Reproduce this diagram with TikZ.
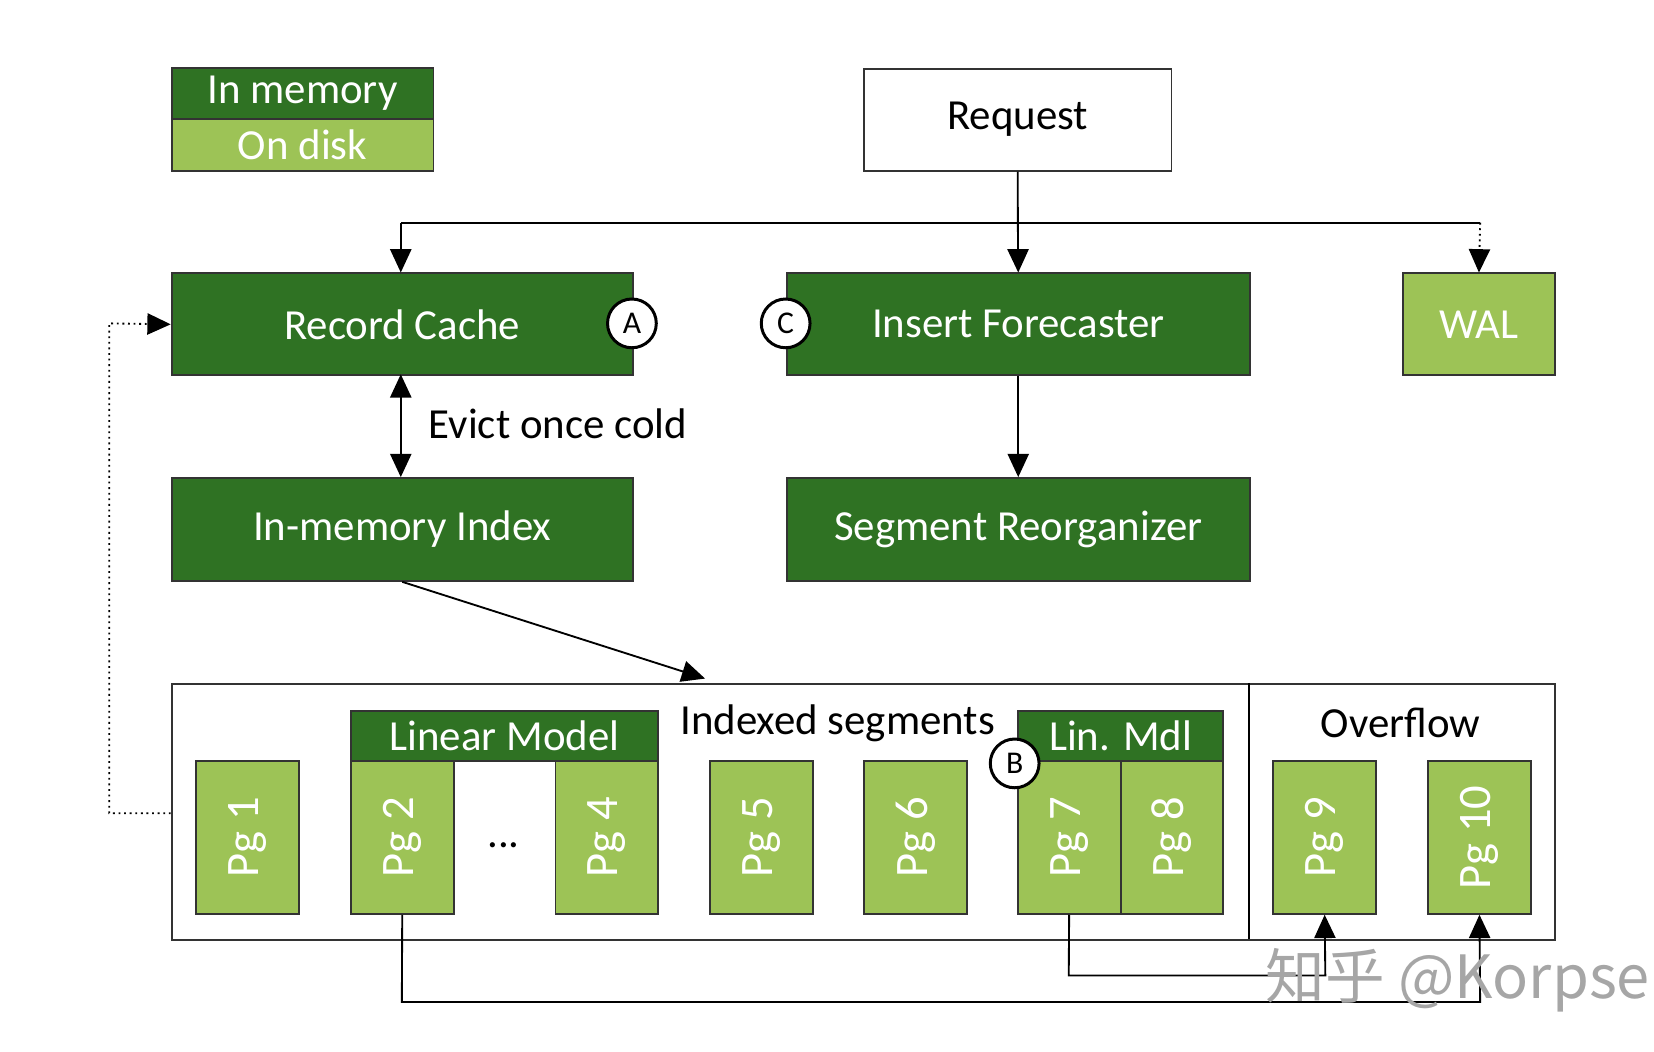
\documentclass[tikz,border=0pt]{standalone}
\usepackage{fontspec}
\setmainfont{Carlito}
\newfontfamily\cjk{Noto Sans CJK SC}
\usetikzlibrary{arrows.meta}
\definecolor{dg}{HTML}{2F7223}
\definecolor{lg}{HTML}{9DC356}
\begin{document}
\begin{tikzpicture}[x=0.1mm,y=-0.1mm,
 box/.style={draw=black!80,line width=0.5pt,anchor=north west,inner sep=0,text=white,font=\fontsize{11.5}{13}\selectfont},
 dark/.style={box,fill=dg},
 light/.style={box,fill=lg},
 pg/.style={light,minimum width=9.7mm,minimum height=14.4mm},
 circ/.style={circle,draw,thick,fill=white,minimum size=4.6mm,inner sep=0,font=\fontsize{8.5}{9}\selectfont},
 arr/.style={-{Triangle[length=2.2mm,width=2mm]},line width=0.5pt},
 lbl/.style={font=\fontsize{11.5}{13}\selectfont}]
\useasboundingbox (0,0) rectangle (1560,992);
% legend
\node[dark,minimum width=24.7mm,minimum height=4.8mm] (mem) at (161,63) {In memory};
\node[light,minimum width=24.7mm,minimum height=4.9mm] (disk) at (161,111) {On disk};
% top row
\node[box,fill=white,text=black,minimum width=29mm,minimum height=9.6mm] (req) at (814,64) {Request};
\node[dark,minimum width=43.5mm,minimum height=9.6mm] (rc) at (161,257) {Record Cache};
\node[dark,minimum width=43.7mm,minimum height=9.6mm] (if) at (741,257) {Insert Forecaster};
\node[light,minimum width=14.4mm,minimum height=9.6mm] (wal) at (1322,257) {WAL};
\node[dark,minimum width=43.5mm,minimum height=9.7mm] (imi) at (161,450) {In-memory Index};
\node[dark,minimum width=43.7mm,minimum height=9.7mm] (sr) at (741,450) {Segment Reorganizer};
\node[circ] (A) at (596,305) {A};
\node[circ] (C) at (741,305) {C};
% request branches
\coordinate (j) at (960,210);
\coordinate (jl) at (378,210);
\coordinate (jr) at (1396,210);
\draw[line width=0.5pt] (req.south) -- (j);
\draw[line width=0.5pt] (jl) -- (jr);
\draw[arr] (jl) -- (378,257);
\draw[arr] (j) -- (if.north);
\draw[arr,densely dotted] (jr) -- (wal.north);
\draw[arr,{Triangle[length=2.2mm,width=2mm]}-{Triangle[length=2.2mm,width=2mm]}] (378,353) -- (378,450);
\node[lbl,anchor=west] (ev) at (392,400) {Evict once cold};
\draw[arr] (if.south) -- (sr.north);
% segments
\node[draw=black!80,line width=0.5pt,anchor=north west,minimum width=130.5mm,minimum height=24.2mm] (outer) at (161,644) {};
\coordinate (d1) at (1178,644); \coordinate (d2) at (1178,886);
\draw[line width=0.5pt] (d1) -- (d2);
\coordinate (ie) at (665,640);
\draw[arr] (imi.south) -- (ie);
\node[lbl] (is) at (790,682) {Indexed segments};
\node[lbl] (ov) at (1321,682) {Overflow};
\node[dark,minimum width=29mm,minimum height=4.7mm] (lm) at (330,670) {Linear Model};
\node[dark,minimum width=19.4mm,minimum height=4.7mm] (lmd) at (959,670) {Lin. Mdl};
\foreach \n/\x in {1/184,2/330,4/523,5/669,6/814,7/959,8/1056,9/1200,10/1346}{
 \node[pg] (p\n) at (\x,717) {};
 \node[rotate=90,text=white,font=\fontsize{12.5}{13}\selectfont] at (p\n.center) {Pg \n};
}
\node[lbl] (dots) at (475,797) {...};
\node[circ] (B) at (957,720) {B};
% feedback loop
\coordinate (f1) at (103,767); \coordinate (f2) at (103,305);
\draw[arr,densely dotted] (outer.west |- f1) -- (f1) -- (f2) -- (rc.west);
% pg7 -> pg9, pg2 -> pg10
\draw[arr] (p7.south) -- (1008,920) -- (1250,920) -- (p9.south);
\draw[arr] (p2.south) -- (379,945) -- (1396,945) -- (p10.south);
\node[text=black!35,font=\cjk\fontsize{16}{18}\selectfont] (wm) at (1375,925) {知乎 @Korpse};
\end{tikzpicture}
\end{document}
